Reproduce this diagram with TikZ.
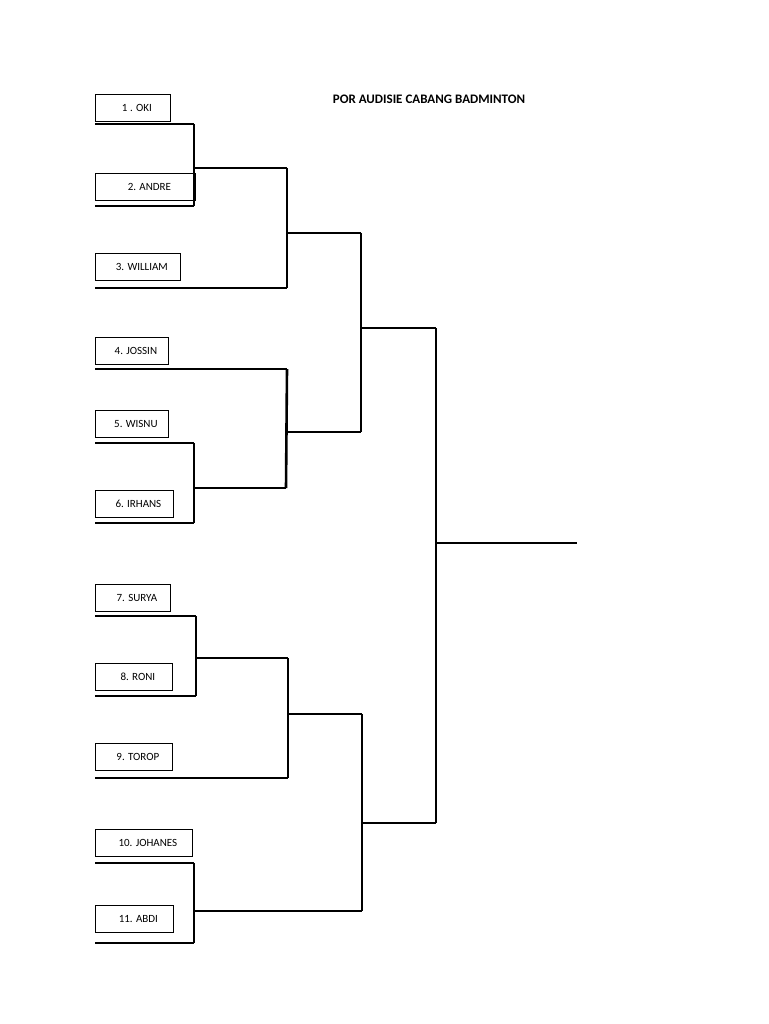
\documentclass[tikz,border=0pt]{standalone}
\usepackage{fontspec}
\setmainfont{Carlito}
\usetikzlibrary{calc}
\begin{document}
\begin{tikzpicture}[x=1pt,y=-1pt,
  player/.style={rectangle,draw,line width=0.8pt,anchor=north west,inner sep=0pt,
    minimum height=27pt,font=\fontsize{11}{13}\selectfont,text depth=0pt},
  bracket/.style={line width=2.6pt},
  title/.style={font=\fontsize{13}{15}\selectfont\bfseries}]
    \useasboundingbox (0,0) rectangle (768,1024);
    \node[title] (ttl) at (429,99) {POR AUDISIE CABANG BADMINTON};
    % Players
    \foreach \n/\y/\w/\name in {1/94/75/1 . OKI,2/173/100/2. ANDRE,3/253/85/3. WILLIAM,
      4/337/73/4. JOSSIN,5/410/73/5. WISNU,6/490/78/6. IRHANS,7/584/75/7. SURYA,
      8/663/77/8. RONI,9/743/77/9. TOROP,10/829/97/10. JOHANES,11/905/78/11. ABDI}
      \node[player,minimum width=\w pt] (p\n) at (95,\y)
        {\hspace{8pt}\name\hspace*{\fill}};
    % Lines under the players
    \foreach \n/\y/\x in {1/124/194,2/206/194,3/288/287,4/369/287,5/443/194,6/523/194,
      7/616/196,8/696/196,9/778/288,10/863/194,11/943/194}
      \draw[bracket] (95,\y) coordinate (l\n) -- (\x,\y) coordinate (r\n);
    % First round
    \draw[bracket] (r1) -- (r2);
    \draw[bracket] (194,168) coordinate (a) -- (287,168) coordinate (ae);
    \draw[bracket] (ae) -- (r3);
    \draw[bracket] (r5) -- (r6);
    \draw[bracket] (194,488) coordinate (b) -- (286,488) coordinate (be);
    \draw[bracket] (r4) -- (be);
    \draw[bracket] (r7) -- (r8);
    \draw[bracket] (196,658) coordinate (c) -- (288,658) coordinate (ce);
    \draw[bracket] (ce) -- (r9);
    \draw[bracket] (r10) -- (r11);
    % Semi finals
    \draw[bracket] (287,233) coordinate (d) -- (361,233) coordinate (de);
    \draw[bracket] (286,432) coordinate (e) -- (361,432) coordinate (ee);
    \draw[bracket] (de) -- (ee);
    \draw[bracket] (288,714) coordinate (f) -- (362,714) coordinate (fe);
    \draw[bracket] (194,911) coordinate (g) -- (362,911) coordinate (ge);
    \draw[bracket] (fe) -- (ge);
    % Final
    \draw[bracket] (361,328) coordinate (h) -- (436,328) coordinate (he);
    \draw[bracket] (362,823) coordinate (k) -- (436,823) coordinate (ke);
    \draw[bracket] (he) -- (ke);
    \draw[bracket] (436,543) coordinate (w) -- (577,543) coordinate (we);
\end{tikzpicture}
\end{document}
